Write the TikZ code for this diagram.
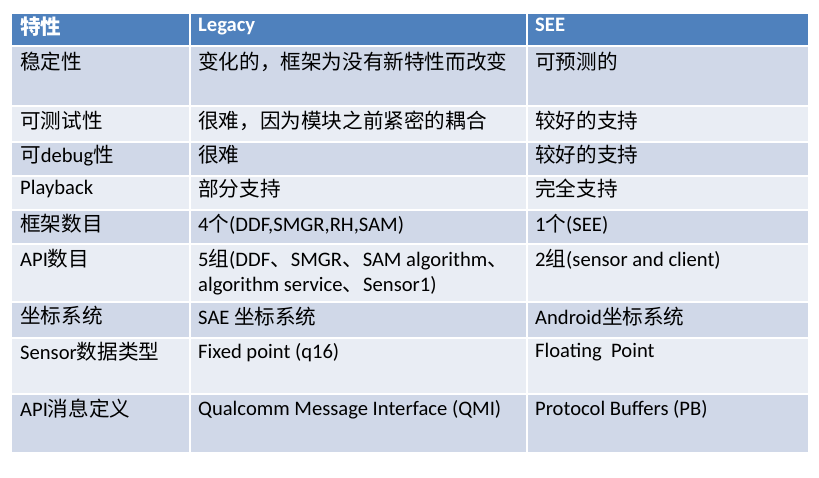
\documentclass[tikz,border=0pt]{standalone}
\usepackage{fontspec}
\setmainfont{Carlito}
\newfontfamily\cjk{Noto Sans CJK SC}
\definecolor{hdr}{HTML}{4F81BD}
\definecolor{rowa}{HTML}{D0D8E8}
\definecolor{rowb}{HTML}{E9EDF4}
\newcommand{\C}[1]{{\cjk\fontsize{20.6}{25}\selectfont #1}}
\begin{document}
\begin{tikzpicture}[x=1pt,y=-1pt,
  cell/.style={anchor=north west,inner sep=0pt,font=\fontsize{20.6}{25}\selectfont,align=left},
  hcell/.style={cell,text=white,font=\bfseries\fontsize{20.6}{25}\selectfont}]
\useasboundingbox (0,0) rectangle (819,477);
\fill[white] (0,0) rectangle (819,477);
\fill[hdr] (12,14) rectangle (808,46);
\def\rows{46/106/rowa,106/142/rowb,142/176/rowa,176/210/rowb,210/244/rowa,244/302/rowb,302/338/rowa,338/394/rowb,394/452/rowa}
\foreach \a/\b/\c in \rows {\fill[\c] (12,\a) rectangle (808,\b);}
\foreach \y in {46,106,142,176,210,244,302,338,394} {\draw[white,line width=1.5pt] (12,\y) -- (808,\y);}
\draw[white,line width=1.5pt] (190,14) -- (190,452);
\draw[white,line width=1.5pt] (527,14) -- (527,452);
\node[hcell] (h1) at (20,17) {\C{特性}};
\node[hcell] (h2) at (198,18) {Legacy};
\node[hcell] (h3) at (535,18) {SEE};
\node[cell] (a1) at (20,52) {\C{稳定性}};
\node[cell] (b1) at (198,52) {\C{变化的，框架为没有新特性而改变}};
\node[cell] (c1) at (535,52) {\C{可预测的}};
\node[cell] (a2) at (20,111) {\C{可测试性}};
\node[cell] (b2) at (198,111) {\C{很难，因为模块之前紧密的耦合}};
\node[cell] (c2) at (535,111) {\C{较好的支持}};
\node[cell] (a3) at (20,145) {\C{可}debug\C{性}};
\node[cell] (b3) at (198,145) {\C{很难}};
\node[cell] (c3) at (535,145) {\C{较好的支持}};
\node[cell] (a4) at (20,180) {Playback};
\node[cell] (b4) at (198,179) {\C{部分支持}};
\node[cell] (c4) at (535,179) {\C{完全支持}};
\node[cell] (a5) at (20,214) {\C{框架数目}};
\node[cell] (b5) at (198,214) {4\C{个}(DDF,SMGR,RH,SAM)};
\node[cell] (c5) at (535,214) {1\C{个}(SEE)};
\node[cell] (a6) at (20,249) {API\C{数目}};
\node[cell] (b6) at (198,249) {5\C{组}(DDF\C{、}SMGR\C{、}SAM algorithm\C{、}\\algorithm service\C{、}Sensor1)};
\node[cell] (c6) at (535,249) {2\C{组}(sensor and client)};
\node[cell] (a7) at (20,306) {\C{坐标系统}};
\node[cell] (b7) at (198,307) {SAE \C{坐标系统}};
\node[cell] (c7) at (535,307) {Android\C{坐标系统}};
\node[cell] (a8) at (20,342) {Sensor\C{数据类型}};
\node[cell] (b8) at (198,343) {Fixed point (q16)};
\node[cell] (c8) at (535,343) {Floating\ \ Point};
\node[cell] (a9) at (20,399) {API\C{消息定义}};
\node[cell] (b9) at (198,400) {Qualcomm Message Interface (QMI)};
\node[cell] (c9) at (535,400) {Protocol Buffers (PB)};
\end{tikzpicture}
\end{document}
